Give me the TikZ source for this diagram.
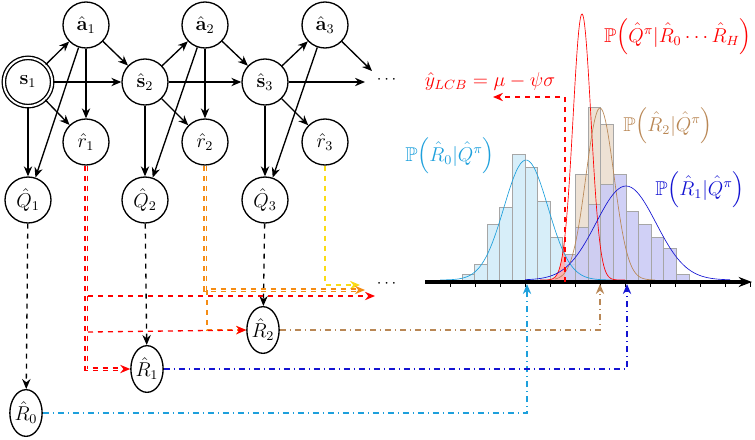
\documentclass[tikz,border=0pt]{standalone}
\usepackage{amsmath,amssymb}
\usetikzlibrary{arrows.meta,shapes.geometric}
\definecolor{cy}{RGB}{30,160,220}
\definecolor{br}{RGB}{185,135,85}
\definecolor{bl}{RGB}{20,20,210}
\definecolor{ye}{RGB}{250,220,20}
\definecolor{orr}{RGB}{245,140,20}
\begin{document}
\begin{tikzpicture}[x=0.6pt,y=-0.6pt,
 st/.style={circle,draw,thick,minimum size=27.6pt,inner sep=0pt,font=\large},
 rr/.style={ellipse,draw,thick,minimum width=19pt,minimum height=28pt,inner sep=0pt,font=\large},
 lab/.style={font=\large},
 ed/.style={-{Stealth[length=6pt,width=5pt]},thick},
 dd/.style={-{Stealth[length=6pt,width=5pt]},thick,dashed},
 dc/.style={-{Stealth[length=6pt,width=5pt]},thick,dash pattern=on 4pt off 2pt on 1pt off 2pt},
 bar/.style={draw=gray!70,line width=0.5pt}]
\useasboundingbox (0,0) rectangle (755,439);
% histograms
\foreach \i/\t in {0/274,1/264,2/224,3/207,4/154,5/167,6/201,7/237}
  \filldraw[bar,fill=cy!18] ({462+12.6*\i},280) rectangle ({474.6+12.6*\i},\t);
\foreach \i/\t in {0/264,1/174,2/107,3/124}
  \filldraw[bar,fill=br!25] ({563+12.6*\i},280) rectangle ({575.6+12.6*\i},\t);
\foreach \i/\t in {0/254,1/227,2/204,3/184,4/174,5/211,6/224,7/237,8/248,9/274}
  \filldraw[bar,fill=bl!22,fill opacity=0.9] ({563+12.6*\i},280) rectangle ({575.6+12.6*\i},\t);
% red fill
\fill[red!30] plot[domain=540:565,samples=30] ({\x},{280-266*exp(-((\x-582)/9)^2/2)}) -- (565,280) -- (540,280) -- cycle;
% curves
\draw[cy] plot[domain=440:612,samples=80] ({\x},{280-120*exp(-((\x-526)/22)^2/2)});
\draw[red] plot[domain=540:625,samples=100] ({\x},{280-266*exp(-((\x-582)/9)^2/2)});
\draw[br] plot[domain=555:655,samples=80] ({\x},{280-172*exp(-((\x-600)/14)^2/2)});
\draw[bl] plot[domain=525:730,samples=80] ({\x},{280-94*exp(-((\x-626)/30)^2/2)});
% axis
\coordinate (ax0) at (425,282); \coordinate (ax1) at (752,282);
\draw[line width=2pt,-{Stealth[length=8pt]}] (ax0) -- (ax1);
\foreach \i in {0,...,12} \draw (450+25*\i,282) -- (450+25*\i,287);
% lcb
\coordinate (l0) at (565,282); \coordinate (l1) at (565,97); \coordinate (l2) at (493,97);
\draw[red,dd,dashed] (l0) -- (l1) -- (l2);
\node[red,lab] (lcb) at (490,81) {$\hat{y}_{LCB}=\mu-\psi\sigma$};
\node[red,lab] (pq) at (678,37) {$\mathbb{P}\Big(\hat{Q}^\pi|\hat{R}_0\cdots\hat{R}_H\Big)$};
\node[br,lab] (p2) at (668,126) {$\mathbb{P}\Big(\hat{R}_2|\hat{Q}^\pi\Big)$};
\node[cy,lab] (p0) at (450,156) {$\mathbb{P}\Big(\hat{R}_0|\hat{Q}^\pi\Big)$};
\node[bl,lab] (p1) at (700,190) {$\mathbb{P}\Big(\hat{R}_1|\hat{Q}^\pi\Big)$};
% graph
\node[st,double,double distance=1.2pt,minimum size=29pt] (s1) at (28,82) {$\mathbf{s}_1$};
\node[st] (a1) at (86,25) {$\hat{\mathbf{a}}_1$};
\node[st] (s2) at (145,82) {$\hat{\mathbf{s}}_2$};
\node[st] (a2) at (205,25) {$\hat{\mathbf{a}}_2$};
\node[st] (s3) at (265,82) {$\hat{\mathbf{s}}_3$};
\node[st] (a3) at (325,25) {$\hat{\mathbf{a}}_3$};
\node[st] (r1) at (86,142) {$\hat{r}_1$};
\node[st] (r2) at (205,142) {$\hat{r}_2$};
\node[st] (r3) at (325,142) {$\hat{r}_3$};
\node[st] (q1) at (28,200) {$\hat{Q}_1$};
\node[st] (q2) at (145,200) {$\hat{Q}_2$};
\node[st] (q3) at (265,200) {$\hat{Q}_3$};
\node[rr] (R0) at (26,413) {$\hat{R}_0$};
\node[rr] (R1) at (147,369) {$\hat{R}_1$};
\node[rr] (R2) at (263,330) {$\hat{R}_2$};
\node (dt1) at (388,80) {$\cdots$};
\node (dt2) at (388,284) {$\cdots$};
\coordinate (e1) at (365,82); \coordinate (e2) at (372,71);
\draw[ed] (s1)--(a1); \draw[ed] (s1)--(s2); \draw[ed] (s1)--(r1); \draw[ed] (s1)--(q1);
\draw[ed] (a1)--(s2); \draw[ed] (a1)--(r1); \draw[ed] (a1)--(q1);
\draw[ed] (s2)--(a2); \draw[ed] (s2)--(s3); \draw[ed] (s2)--(r2); \draw[ed] (s2)--(q2);
\draw[ed] (a2)--(s3); \draw[ed] (a2)--(r2); \draw[ed] (a2)--(q2);
\draw[ed] (s3)--(a3); \draw[ed] (s3)--(e1); \draw[ed] (s3)--(r3); \draw[ed] (s3)--(q3);
\draw[ed] (a3)--(e2); \draw[ed] (a3)--(q3);
\draw[dd] (q1)--(R0); \draw[dd] (q2)--(R1); \draw[dd] (q3)--(R2);
% reward lines
\coordinate (y1) at (360,285); \coordinate (o1) at (365,290); \coordinate (rd1) at (375,296);
\draw[dd,ye] (r3) |- (y1);
\draw[dd,orr,double=white,double distance=0.6pt] (r2) |- (o1);
\draw[dd,orr] (207,290) |- (R2.west);
\draw[dd,red,double=white,double distance=0.6pt] (r1) |- (R1);
\draw[dd,red] (88,296) -- (rd1);
\draw[dd,red] (88,332) -- (R2.west);
% result lines
\coordinate (c0) at (527,284); \coordinate (c1) at (627,284); \coordinate (c2) at (600,284);
\draw[dc,cy] (R0) -| (c0);
\draw[dc,bl] (R1) -| (c1);
\draw[dc,br] (R2) -| (c2);
\end{tikzpicture}
\end{document}
